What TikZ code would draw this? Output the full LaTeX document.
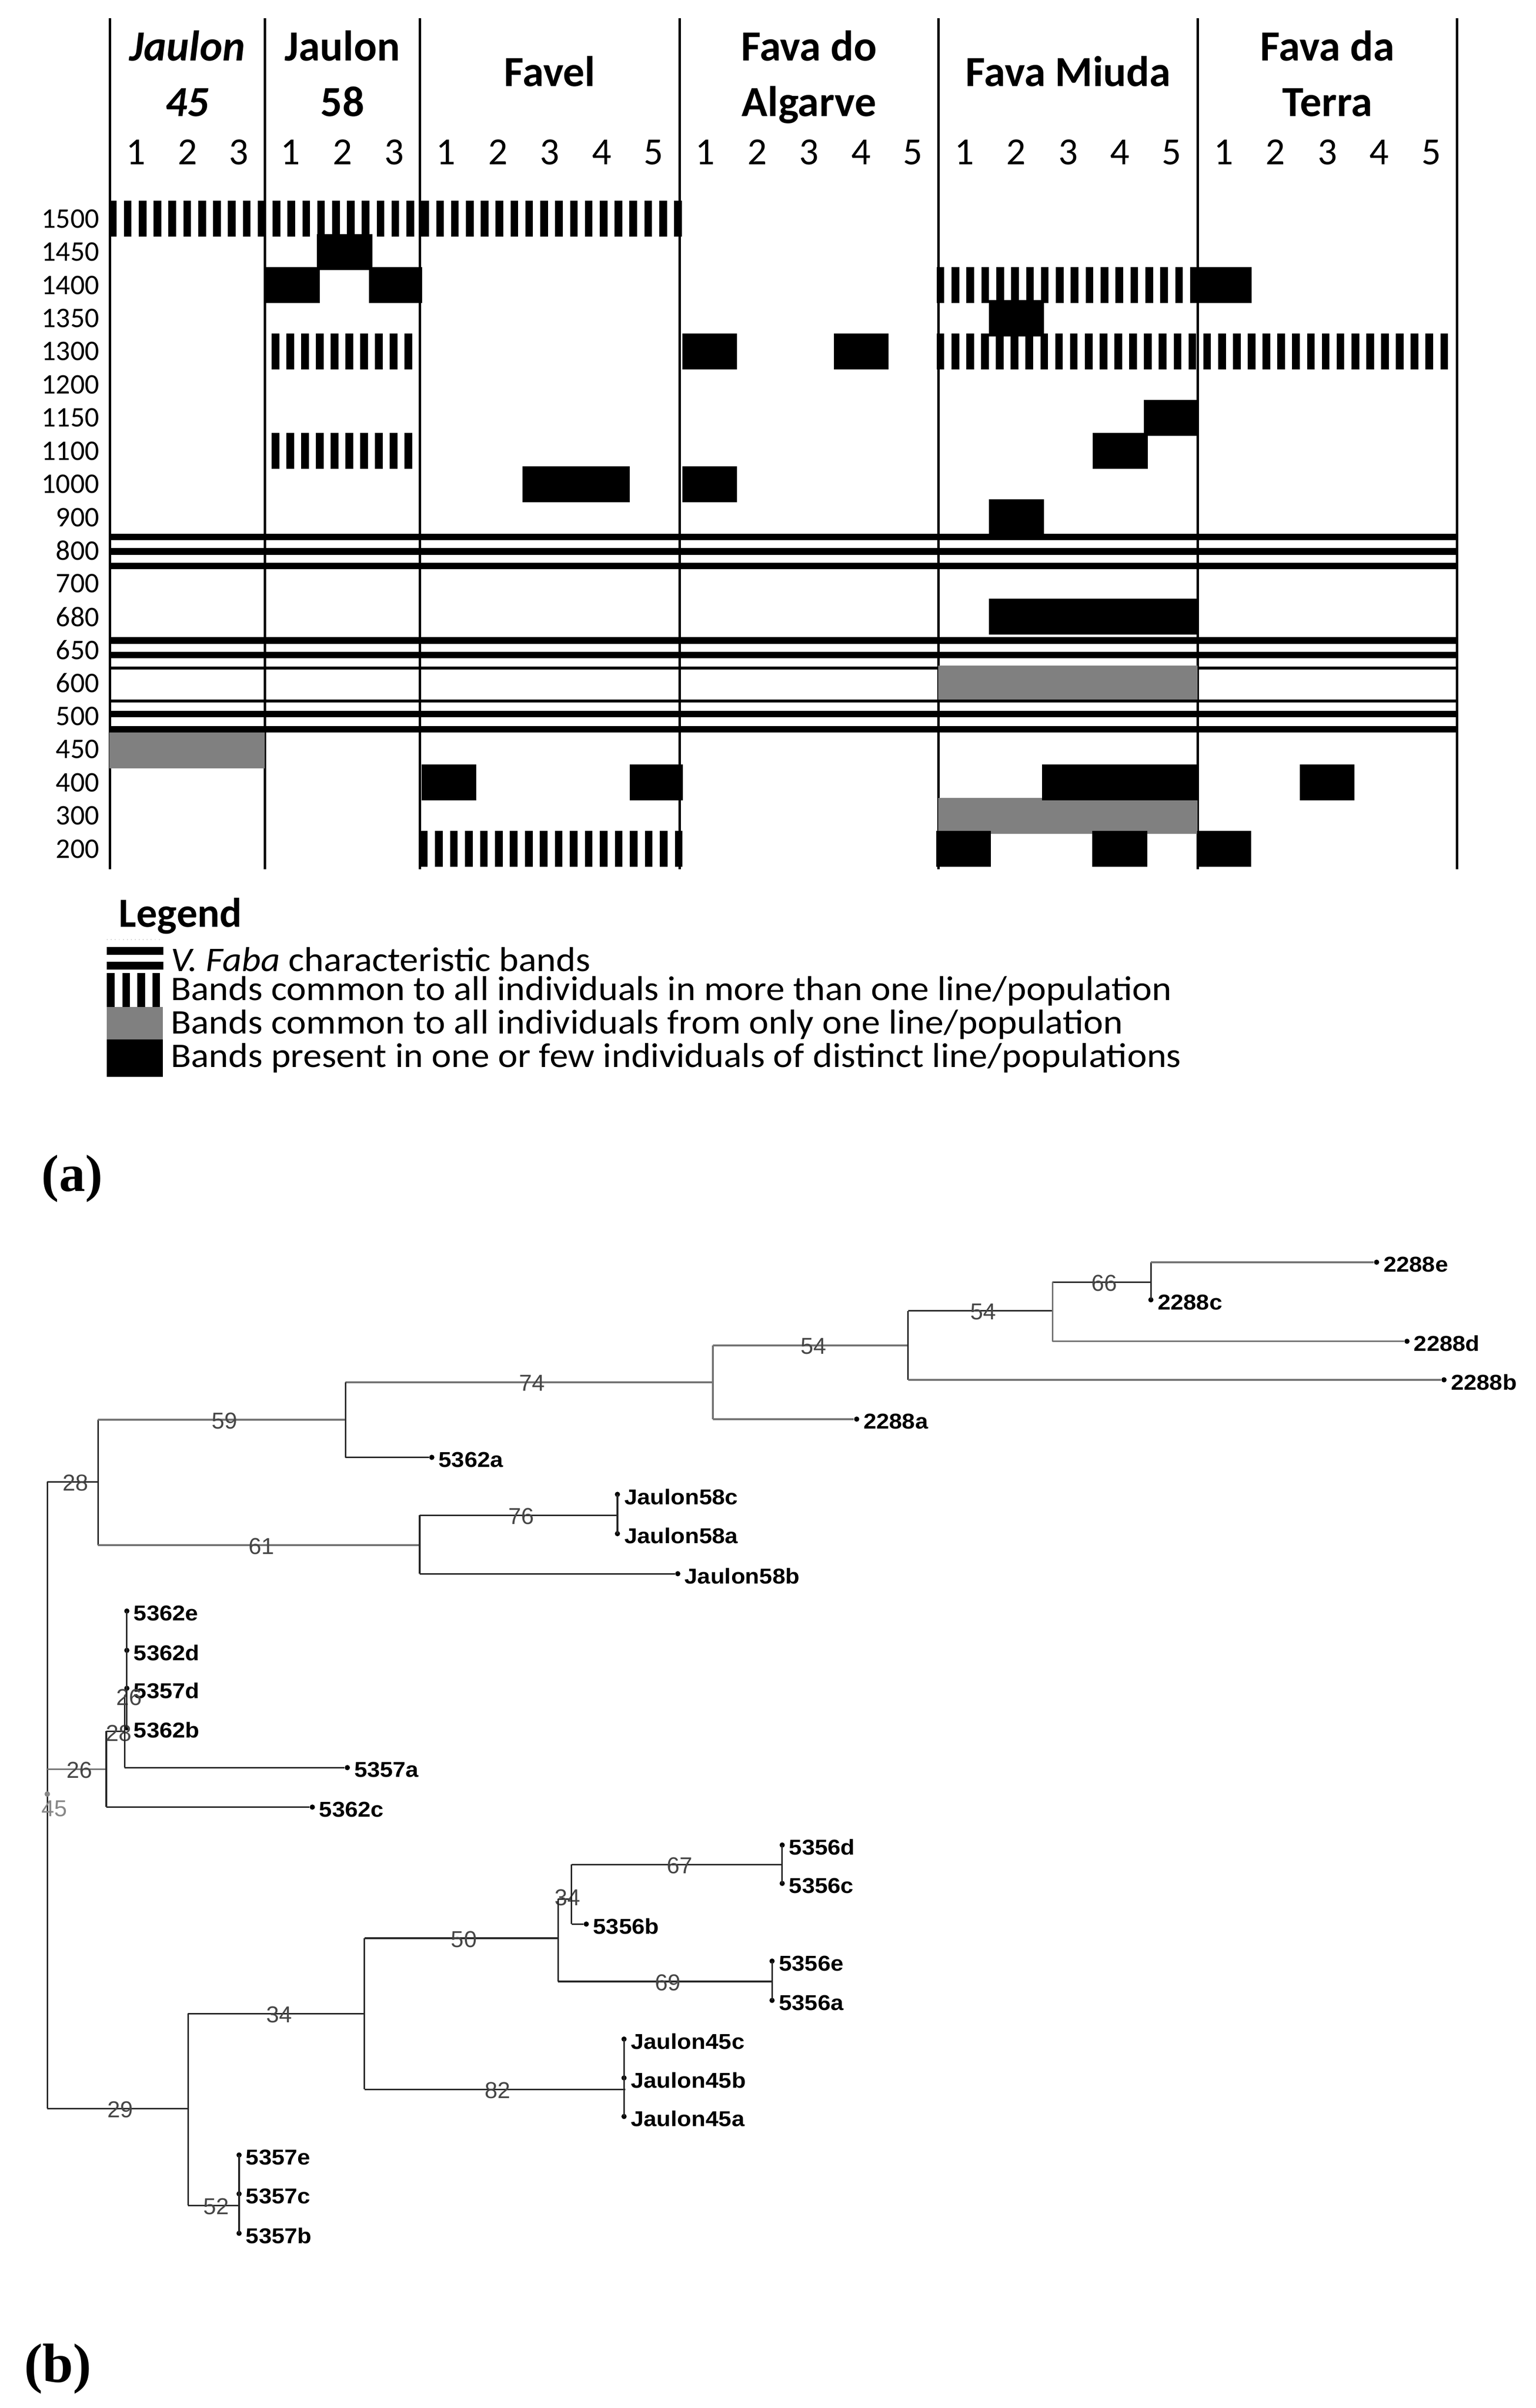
\documentclass[tikz,border=0pt]{standalone}
\usepackage{fontspec}
\setmainfont{Carlito}
\newfontfamily\legfont[FakeStretch=1.08]{Carlito}
\newfontfamily\leaffont[FakeStretch=1.08]{Liberation Sans}
\newfontfamily\bsfont{Liberation Sans}
\newfontfamily\panelfont{Liberation Serif}
\usetikzlibrary{calc}
\definecolor{bandgray}{RGB}{128,128,128}
\definecolor{bsgray}{RGB}{70,70,70}
\definecolor{linegray}{RGB}{115,115,115}
\definecolor{rootgray}{RGB}{135,135,135}

% hatched band: x1 x2 ytop ybot
\newcommand\mkhatch[4]{%
  \pgfmathsetmacro\hw{#2-#1}%
  \pgfmathtruncatemacro\hn{round((\hw-5)/9.6)}%
  \pgfmathsetmacro\hs{(\hw-5)/\hn}%
  \foreach \k in {0,...,\hn}{\fill ({#1+\k*\hs},#3) rectangle ({#1+\k*\hs+5},#4);}%
}
\newcommand\mkhatchc[3]{\mkhatch{#1}{#2}{#3-11.7}{#3+11.7}}
\newcommand\bbx[3]{\fill (#1,{#3-11.7}) rectangle (#2,{#3+11.7});}
\newcommand\gbx[3]{\fill[bandgray] (#1,{#3-11.7}) rectangle (#2,{#3+11.7});}
% tree helpers
\newcommand\leafnode[4]{\node[dot] (#1) at (#2,#3) {}; \node[leaf] (#1-t) at (#1.center) {#4};}
\newcommand\edgel[4][tree]{\draw[#1] (#2 |- #3) -- node[bs,xshift=1.8pt,yshift=-0.6pt]{#4} (#3);}
\newcommand\edgen[3][tree]{\draw[#1] (#2 |- #3) -- (#3);}
\newcommand\vseg[4][tree]{\draw[#1] (#2 |- #3) -- (#2 |- #4);}

\begin{document}
\begin{tikzpicture}[x=1pt,y=-1pt,
  hdr/.style={anchor=base,inner sep=0pt,font=\bfseries\fontsize{28}{30}\selectfont},
  lane/.style={anchor=base,inner sep=0pt,font=\fontsize{25}{27}\selectfont},
  rowlab/.style={anchor=east,inner sep=0pt,font=\fontsize{18.5}{20}\selectfont},
  legtext/.style={anchor=base west,inner sep=0pt,font=\legfont\fontsize{22.5}{24}\selectfont},
  tree/.style={line width=1pt,black!85},
  treeg/.style={line width=1.1pt,linegray},
  bs/.style={inner sep=0pt,text=bsgray,font=\bsfont\fontsize{15}{15}\selectfont},
  dot/.style={circle,fill=black,inner sep=0pt,minimum size=3.4pt},
  leaf/.style={anchor=west,inner sep=0pt,xshift=4.3pt,yshift=-1.5pt,font=\leaffont\bfseries\fontsize{14}{14}\selectfont},
  panel/.style={anchor=west,inner sep=0pt,font=\panelfont\bfseries}
]
\useasboundingbox (0,0) rectangle (1000,1568.4);
\fill[white] (0,0) rectangle (1000,1568.4);

% ---------------- (a) band table ----------------
\foreach \x in {71.7,172.4,273.6,442.5,611.3,779.9,949.0}
  \draw[line width=1.6pt] (\x,11.9) -- (\x,566.2);

\node[hdr] (h45a) at (122.05,39.5) {\itshape Jaulon};
\node[hdr] (h45b) at (122.05,75.8) {\itshape 45};
\node[hdr] (h58a) at (223,39.5) {Jaulon};
\node[hdr] (h58b) at (223,75.8) {58};
\node[hdr] (hfav) at (358.05,56.1) {Favel};
\node[hdr] (halg1) at (526.9,39.5) {Fava do};
\node[hdr] (halg2) at (526.9,75.8) {Algarve};
\node[hdr] (hmiu) at (695.6,56.1) {Fava Miuda};
\node[hdr] (hter1) at (864.45,39.5) {Fava da};
\node[hdr] (hter2) at (864.45,75.8) {Terra};

\foreach \a/\b/\n in {71.7/172.4/3,172.4/273.6/3,273.6/442.5/5,442.5/611.3/5,611.3/779.9/5,779.9/949/5}{
  \foreach \k in {1,...,\n}{\node[lane] at ({\a+(\k-0.5)*(\b-\a)/\n},107.2) {\k};}
}

\foreach \lab [count=\i from 0] in {1500,1450,1400,1350,1300,1200,1150,1100,1000,900,800,700,680,650,600,500,450,400,300,200}
  \node[rowlab] (row\lab) at (64.8,{142.5+21.6*\i}) {\lab};

\foreach \ya/\yb in {347.6/351.8,357/361.4,366.5/370.7,415/419.3,424.5/428.7,434.1/436.1,455.6/457.6,463/467.3,472.9/477.1}
  \fill (71.7,\ya) rectangle (949,\yb);

\mkhatchc{71}{444}{142.5}
\mkhatchc{610}{780}{185.7}
\mkhatchc{177}{268.5}{228.9}
\mkhatchc{610}{943}{228.9}
\mkhatchc{177}{268.5}{293.7}
\mkhatchc{273.5}{444.5}{552.9}

\fill[bandgray] (611,433.5) rectangle (780,455.5);
\fill[bandgray] (71,477.2) rectangle (172.4,500.5);
\gbx{611}{780}{531.3}

\bbx{206.5}{242.5}{164.1}
\bbx{173}{208.3}{185.7}
\bbx{240.3}{274.9}{185.7}
\bbx{775}{815}{185.7}
\bbx{644}{680}{207.3}
\bbx{444.5}{480}{228.9}
\bbx{543}{578.7}{228.9}
\bbx{745}{780.5}{272.1}
\bbx{711.5}{747.5}{293.7}
\bbx{340.3}{410.1}{315.3}
\bbx{444.5}{480}{315.3}
\bbx{644}{680}{336.9}
\bbx{644}{780.5}{401.7}
\bbx{274.5}{310}{509.7}
\bbx{410}{444.7}{509.7}
\bbx{678.5}{780.5}{509.7}
\bbx{846.6}{882}{509.7}
\bbx{609.6}{645.3}{552.9}
\bbx{711.3}{747.2}{552.9}
\bbx{779.4}{814.8}{552.9}

% legend
\node[anchor=base west,inner sep=0pt,font=\bfseries\fontsize{27}{30}\selectfont] (legtitle) at (77.3,603.9) {Legend};
\draw[gray!35,line width=0.6pt,dotted] (69.6,612) -- (106,612);
\fill (69.6,616.8) rectangle (106.5,621.8);
\fill (69.6,626.4) rectangle (106.5,631.4);
\foreach \bx in {69.6,79.8,89.5,99.3}
  \fill (\bx,633.9) rectangle ({\bx+4.9},655.8);
\fill[bandgray] (69.6,655.8) rectangle (106,677.1);
\fill (69.6,677.1) rectangle (106,701.5);
\node[legtext] (leg1) at (111,632.5) {\textit{V. Faba} characteristic bands};
\node[legtext] (leg2) at (111,651.6) {Bands common to all individuals in more than one line/population};
\node[legtext] (leg3) at (111,673.4) {Bands common to all individuals from only one line/population};
\node[legtext] (leg4) at (111,695.1) {Bands present in one or few individuals of distinct line/populations};

\node[panel,font=\panelfont\bfseries\fontsize{34}{36}\selectfont] (pa) at (27,767.6) {(a)};

% ---------------- (b) dendrogram ----------------
\coordinate (root) at (30.8,1168.5);
\coordinate (n28) at (63.8,965.2);
\coordinate (n26) at (69.2,1152.4);
\coordinate (n29) at (122.5,1373.4);
\coordinate (n59) at (225,924.7);
\coordinate (n61) at (273.3,1006.4);
\coordinate (n74) at (464.3,900.3);
\coordinate (n54a) at (591.4,876.3);
\coordinate (n54b) at (685.5,853.8);
\coordinate (n66) at (749.5,835);
\coordinate (n76) at (402.1,987);
\coordinate (n28b) at (81.2,1127.6);
\coordinate (n26b) at (83,1104);
\coordinate (n34) at (237.3,1311.5);
\coordinate (n52) at (155.7,1436.5);
\coordinate (n50) at (363.4,1262.4);
\coordinate (n82) at (407.2,1360.9);
\coordinate (n34b) at (372.2,1236.9);
\coordinate (n69) at (502.8,1290.6);
\coordinate (n67) at (509.4,1214.4);

\vseg{root}{n28}{n29}
\vseg{n28}{n59}{n61}
\vseg{n29}{n34}{n52}

% upper clade
\edgel{root}{n28}{28}
\edgel[treeg]{n28}{n59}{59}
\edgel[treeg]{n28}{n61}{61}
\edgel[treeg]{n59}{n74}{74}
\edgel[treeg]{n74}{n54a}{54}
\edgel{n54a}{n54b}{54}
\edgel{n54b}{n66}{66}
\edgel{n61}{n76}{76}

\leafnode{L2288e}{896.5}{822.1}{2288e}
\leafnode{L2288c}{749.5}{846.6}{2288c}
\leafnode{L2288d}{916.3}{873.6}{2288d}
\leafnode{L2288b}{940.4}{898.7}{2288b}
\leafnode{L2288a}{557.9}{924.3}{2288a}
\leafnode{L5362a}{281.2}{949.2}{5362a}
\leafnode{L58c}{402.1}{973.3}{Jaulon58c}
\leafnode{L58a}{402.1}{998.9}{Jaulon58a}
\leafnode{L58b}{441.4}{1025}{Jaulon58b}

\vseg{n59}{n74}{L5362a}
\vseg[treeg]{n74}{n54a}{L2288a}
\vseg{n54a}{n54b}{L2288b}
\vseg[treeg]{n54b}{n66}{L2288d}
\vseg{n66}{L2288e}{L2288c}
\vseg{n61}{n76}{L58b}
\vseg{n76}{L58c}{L58a}
\edgen[treeg]{n66}{L2288e}
\edgen[treeg]{n54b}{L2288d}
\edgen[treeg]{n54a}{L2288b}
\edgen[treeg]{n74}{L2288a}
\edgen{n59}{L5362a}
\edgen{n61}{L58b}

% middle clade
\edgel[treeg]{root}{n26}{26}
\leafnode{L5362e}{82.6}{1049.3}{5362e}
\leafnode{L5362d}{82.6}{1074.9}{5362d}
\leafnode{L5357d}{82.6}{1099.6}{5357d}
\leafnode{L5362b}{82.6}{1125.4}{5362b}
\leafnode{L5357a}{226.2}{1151.3}{5357a}
\leafnode{L5362c}{203.4}{1177}{5362c}
\vseg{n26}{n28b}{L5362c}
\edgen{n26}{n28b}
\node[bs] (b28b) at (77.4,1129) {28};
\vseg{n28b}{n26b}{L5357a}
\edgen[treeg]{n28b}{n26b}
\node[bs] (b26b) at (84.2,1105.5) {26};
\vseg{L5362e}{L5362e}{L5362b}
\edgen{n28b}{L5357a}
\edgen{n26}{L5362c}

\node[circle,fill=rootgray,inner sep=0pt,minimum size=3.6pt] (rootdot) at (root) {};
\node[bs,text=rootgray] (b45) at (35.5,1178) {45};

% lower clade
\edgel{root}{n29}{29}
\edgel{n29}{n34}{34}
\edgel{n34}{n50}{50}
\edgel{n34}{n82}{82}
\edgen{n50}{n34b}
\node[bs] (b34b) at (369.7,1235.9) {34};
\edgel{n34b}{n67}{67}
\edgel{n50}{n69}{69}
\edgel{n29}{n52}{52}

\leafnode{L5356d}{509.4}{1201.7}{5356d}
\leafnode{L5356c}{509.4}{1226.7}{5356c}
\leafnode{L5356b}{381.8}{1253.2}{5356b}
\leafnode{L5356e}{502.8}{1277.3}{5356e}
\leafnode{L5356a}{502.8}{1302.9}{5356a}
\leafnode{L45c}{406.4}{1328.1}{Jaulon45c}
\leafnode{L45b}{406.4}{1353.4}{Jaulon45b}
\leafnode{L45a}{406.4}{1378.5}{Jaulon45a}
\leafnode{L5357e}{155.7}{1403.6}{5357e}
\leafnode{L5357c}{155.7}{1428.9}{5357c}
\leafnode{L5357b}{155.7}{1454.6}{5357b}

\vseg{n34}{n50}{n82}
\vseg{n50}{n34b}{n69}
\vseg{n34b}{n67}{L5356b}
\edgen{n34b}{L5356b}
\vseg{n67}{L5356d}{L5356c}
\vseg{n69}{L5356e}{L5356a}
\vseg{L45c}{L45c}{L45a}
\vseg{n52}{L5357e}{L5357b}

\node[panel,font=\panelfont\bfseries\fontsize{36}{38}\selectfont] (pb) at (15.5,1543) {(b)};
\end{tikzpicture}
\end{document}
